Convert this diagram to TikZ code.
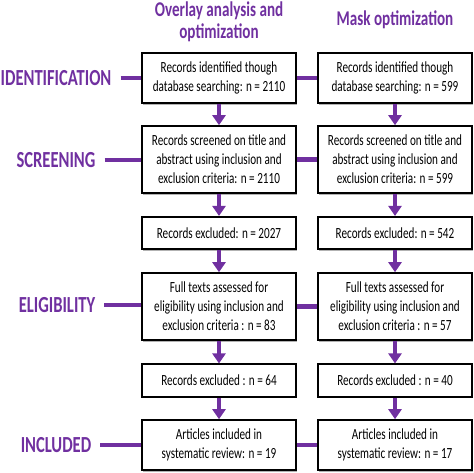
\documentclass[tikz,border=0pt]{standalone}
\usepackage{fontspec}
\setmainfont{Carlito}[FakeStretch=0.72]
\usetikzlibrary{arrows.meta,shadows}
\definecolor{prismapurple}{RGB}{112,48,160}

\begin{document}
\begin{tikzpicture}[x=1pt,y=-1pt,
  recbox/.style={draw=black,line width=1.6pt,fill=white,align=center,inner sep=0pt,
    minimum width=154pt,font=\fontsize{15.5}{19}\selectfont,
    drop shadow={shadow xshift=0.8pt,shadow yshift=-1.6pt,fill=black!30,opacity=1}},
  stagelab/.style={text=prismapurple,inner sep=0pt,font=\fontsize{23}{26}\selectfont\bfseries},
  headlab/.style={text=prismapurple,align=center,inner sep=0pt,font=\fontsize{21}{22}\selectfont\bfseries},
  flow/.style={draw=prismapurple,line width=4.5pt,-{Triangle[width=13pt,length=10pt]}},
  link/.style={draw=prismapurple,line width=4.5pt}]
\useasboundingbox (0,0) rectangle (474,472);

% column headings
\node[headlab] (hov) at (219,22) {Overlay analysis and\\optimization};
\node[headlab] (hmk) at (395,20) {Mask optimization};

% left: overlay analysis
\node[recbox,minimum height=50pt] (ov1) at (219,78) {Records identified though\\database searching: n = 2110};
\node[recbox,minimum height=67pt] (ov2) at (219,159.5) {Records screened on title and\\abstract using inclusion and\\exclusion criteria: n = 2110};
\node[recbox,minimum height=32.5pt] (ov3) at (219,233) {Records excluded: n = 2027};
\node[recbox,minimum height=67pt] (ov4) at (219,306.5) {Full texts assessed for\\eligibility using inclusion and\\exclusion criteria : n = 83};
\node[recbox,minimum height=32.5pt] (ov5) at (219,380.5) {Records excluded : n = 64};
\node[recbox,minimum height=50pt] (ov6) at (219,445) {Articles included in\\systematic review: n = 19};

% right: mask optimization
\node[recbox,minimum height=50pt] (mk1) at (395,78) {Records identified though\\database searching: n = 599};
\node[recbox,minimum height=67pt] (mk2) at (395,159.5) {Records screened on title and\\abstract using inclusion and\\exclusion criteria: n = 599};
\node[recbox,minimum height=32.5pt] (mk3) at (395,233) {Records excluded: n = 542};
\node[recbox,minimum height=67pt] (mk4) at (395,306.5) {Full texts assessed for\\eligibility using inclusion and\\exclusion criteria : n = 57};
\node[recbox,minimum height=32.5pt] (mk5) at (395,380.5) {Records excluded : n = 40};
\node[recbox,minimum height=50pt] (mk6) at (395,445) {Articles included in\\systematic review: n = 17};

% stages
\node[stagelab] (sid) at (56,78) {IDENTIFICATION};
\node[stagelab] (ssc) at (56,160) {SCREENING};
\node[stagelab] (sel) at (57,305) {ELIGIBILITY};
\node[stagelab] (sin) at (56,445) {INCLUDED};

\draw[link,shorten <=9pt] (sid.east) -- (sid.east -| ov1.west);
\draw[link,shorten <=9pt] (ssc.east) -- (ssc.east -| ov2.west);
\draw[link,shorten <=9pt] (sel.east) -- (sel.east -| ov4.west);
\draw[link,shorten <=9pt] (sin.east) -- (sin.east -| ov6.west);

% links between columns
\foreach \r in {1,2,4,6}
  \draw[link] (ov\r) -- (mk\r);

% downward arrows
\foreach \a/\b in {1/2,2/3,3/4,4/5,5/6}
  {
    \draw[flow] (ov\a) -- (ov\b);
    \draw[flow] (mk\a) -- (mk\b);
  }
\end{tikzpicture}
\end{document}
